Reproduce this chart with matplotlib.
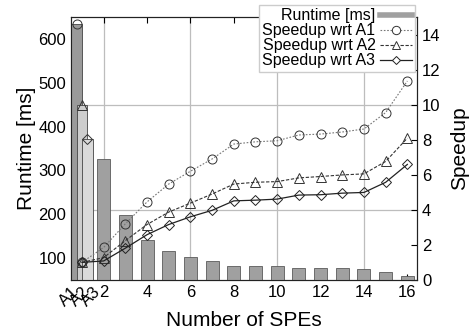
import matplotlib
matplotlib.use("Agg")
import matplotlib.pyplot as plt
from matplotlib.lines import Line2D

plt.rcParams['font.family'] = ['Liberation Sans', 'DejaVu Sans']

# Baseline versions A1..A3 (runtime in ms)
base_labels = ["A1", "A2", "A3"]
base_pos = [0.75, 1.0, 1.25]
base_runtime = [634, 450, 372]
base_colors = ['#9a9a9a', '#cdcdcd', '#dadada']

# Runtime per number of SPEs
spes = [2, 3, 4, 5, 6, 7, 8, 9, 10, 11, 12, 13, 14, 15, 16]
runtime = [326, 198, 142, 116, 103, 93, 82, 82, 82, 78, 78, 77, 75, 68, 58]

# Speedup curves (x = 1..16)
sp_x = [1, 2, 3, 4, 5, 6, 7, 8, 9, 10, 11, 12, 13, 14, 15, 16]
speedup_a1 = [1.0, 1.85, 3.2, 4.45, 5.47, 6.2, 6.9, 7.75, 7.88, 7.94, 8.27, 8.32, 8.44, 8.61, 9.55, 11.35]
speedup_a2 = [1.0, 1.27, 2.24, 3.16, 3.87, 4.38, 4.9, 5.47, 5.57, 5.61, 5.82, 5.9, 5.99, 6.05, 6.76, 8.09]
speedup_a3 = [1.0, 1.08, 1.81, 2.58, 3.16, 3.6, 3.97, 4.51, 4.55, 4.61, 4.84, 4.86, 4.95, 4.99, 5.57, 6.59]

fig = plt.figure(figsize=(4.74, 3.34), dpi=100)
ax = fig.add_axes([0.150, 0.162, 0.730, 0.787])
ax2 = ax.twinx()

# grid (drawn behind bars)
for gx in [2, 6, 10, 14]:
    ax.axvline(gx, color='#bdbdbd', lw=0.9, zorder=0)
for gy in [4, 10]:
    ax2.axhline(gy, color='#bdbdbd', lw=0.9, zorder=0)
ax.set_zorder(ax2.get_zorder() + 1)
ax.patch.set_visible(False)

# bars
for p, v, c in zip(base_pos, base_runtime, base_colors):
    ax.bar(p, v - 50, bottom=50, width=0.5, color=c, edgecolor='#444444', lw=0.6, zorder=2)
ax.bar(spes, [v - 50 for v in runtime], bottom=50, width=0.6, color='#a0a0a0',
       edgecolor='#5a5a5a', lw=0.6, zorder=2)

# markers on top of the baseline bars
for p, v, m in zip(base_pos, base_runtime, ['o', '^', 'D']):
    ax.plot(p, v, marker=m, ms=6.5 if m != 'D' else 4.8, mfc='none', mec='#333333', mew=0.7, zorder=5)

# speedup curves on the right axis, drawn through the left axes via transform
tr = ax2.transData
ax.plot(sp_x, speedup_a1, transform=tr, color='#777777', ls=(0, (1.5, 1.5)), lw=0.8,
        marker='o', ms=6.5, mfc='none', mec='#333333', mew=0.7, zorder=4)
ax.plot(sp_x, speedup_a2, transform=tr, color='#333333', ls=(0, (3, 1.5)), lw=0.8,
        marker='^', ms=6.5, mfc='none', mec='#333333', mew=0.7, zorder=4)
ax.plot(sp_x, speedup_a3, transform=tr, color='#222222', ls='-', lw=0.9,
        marker='D', ms=4.8, mfc='none', mec='#222222', mew=0.7, zorder=4)

ax.set_xlim(0.5, 16.45)
ax.set_ylim(50, 650)
ax2.set_ylim(0, 15)

ax.set_yticks([100, 200, 300, 400, 500, 600])
ax2.set_yticks([0, 2, 4, 6, 8, 10, 12, 14])
ax.set_xticks([2, 4, 6, 8, 10, 12, 14, 16])
ax.set_xticks([0.5, 1.0, 1.5], minor=True)
ax.set_xticklabels(base_labels, minor=True, rotation=45, ha='right', va='top',
                   rotation_mode='anchor', fontsize=12)
ax.tick_params(axis='x', which='minor', length=0, pad=3)

ax.tick_params(axis='both', which='major', direction='in', labelsize=12, length=4,
               top=True)
ax2.tick_params(axis='y', direction='in', labelsize=12, length=4)

ax.set_xlabel("Number of SPEs", fontsize=15, labelpad=1)
ax.set_ylabel("Runtime [ms]", fontsize=15, labelpad=2)
ax2.set_ylabel("Speedup", fontsize=15, labelpad=7)

for a in (ax, ax2):
    for s in a.spines.values():
        s.set_linewidth(0.8)
        s.set_color('#222222')

handles = [
    Line2D([], [], color='#a0a0a0', lw=4),
    Line2D([], [], color='#777777', ls=(0, (1.5, 1.5)), lw=0.8, marker='o', ms=6, mfc='white', mec='#333333', mew=0.7),
    Line2D([], [], color='#333333', ls=(0, (3, 1.5)), lw=0.8, marker='^', ms=6, mfc='white', mec='#333333', mew=0.7),
    Line2D([], [], color='#222222', ls='-', lw=0.9, marker='D', ms=4.5, mfc='white', mec='#222222', mew=0.7),
]
labels = ["Runtime [ms]", "Speedup wrt A1", "Speedup wrt A2", "Speedup wrt A3"]
leg = ax.legend(handles, labels, loc='upper right', bbox_to_anchor=(0.995, 1.045),
                markerfirst=False, fontsize=11.5, labelspacing=0.0, borderpad=0.2,
                handlelength=2.0, handletextpad=0.3, fancybox=False, framealpha=1,
                edgecolor='#cccccc', borderaxespad=0)
leg.set_zorder(10)

fig.savefig("out.png", dpi=100)
